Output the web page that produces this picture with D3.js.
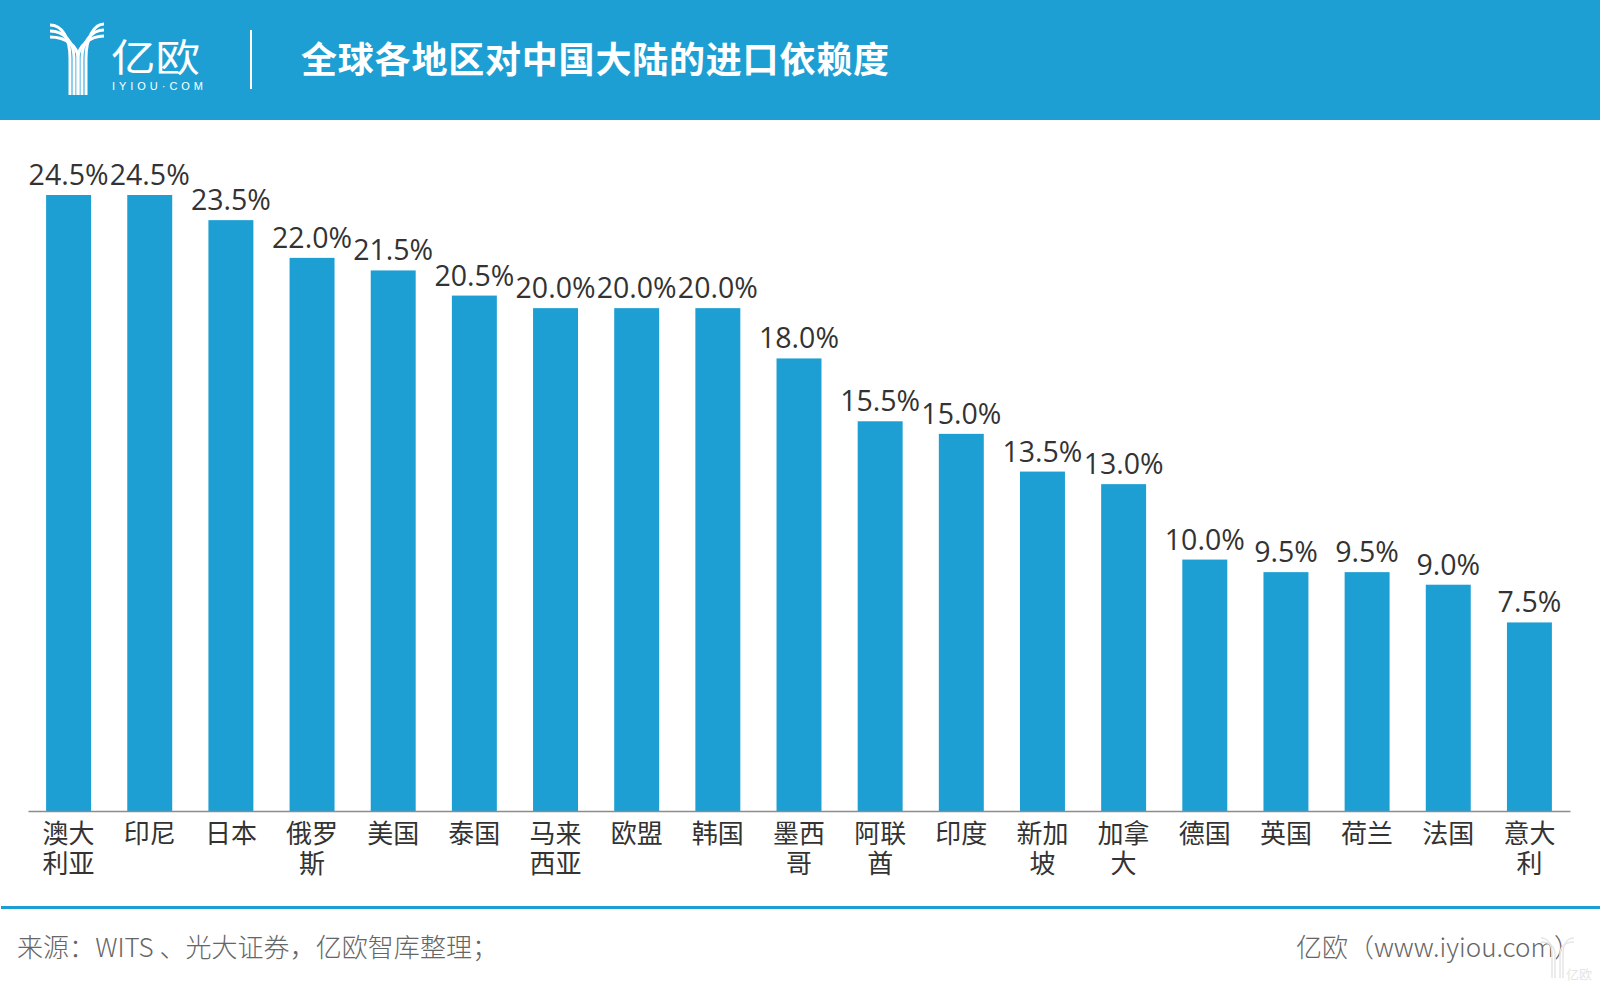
<!DOCTYPE html>
<html>
<head>
<meta charset="utf-8">
<script src="https://cdn.jsdelivr.net/npm/d3@7"></script>
<style>
  html, body { margin: 0; padding: 0; background: #fff; }
  svg { display: block; }
</style>
</head>
<body>
<svg id="chart" width="1603" height="986" lang="zh-CN"></svg>
<script>
// ---- data ----
const categories = ["澳大利亚","印尼","日本","俄罗斯","美国","泰国","马来西亚","欧盟","韩国","墨西哥","阿联酋","印度","新加坡","加拿大","德国","英国","荷兰","法国","意大利"];
const values = [24.5,24.5,23.5,22.0,21.5,20.5,20.0,20.0,20.0,18.0,15.5,15.0,13.5,13.0,10.0,9.5,9.5,9.0,7.5];
const title = "全球各地区对中国大陆的进口依赖度";
const sourceText = "来源：WITS 、光大证券，亿欧智库整理；";
const siteText = "亿欧（www.iyiou.com）";

const BLUE = "#1e9fd3";
const CJK = "'Liberation Sans', 'Noto Sans CJK SC', sans-serif";
const svg = d3.select("#chart");

// ---- header ----
svg.append("rect").attr("x", 0).attr("y", 0).attr("width", 1600).attr("height", 120).attr("fill", BLUE);

// logo Y symbol
const logo = svg.append("g").attr("fill", "none").attr("stroke", "#fff").attr("stroke-width", 3);
[0,1,2].forEach(k => {
  const sx = 70 + k*4;
  logo.append("path").attr("d", `M50 ${25+k*6} C ${62+k*2} ${25+k*6}, ${sx} ${38+k*4}, ${sx} 58 L ${sx} 95`);
  const rx = 86 - k*4;
  logo.append("path").attr("d", `M104 ${24+k*6} C ${94-k*2} ${24+k*6}, ${rx} ${38+k*4}, ${rx} 58 L ${rx} 95`);
});
svg.append("text").attr("x", 111).attr("y", 71)
  .attr("font-family", CJK).attr("font-weight", 400).attr("font-size", 38)
  .attr("fill", "#fff").attr("textLength", 89).attr("lengthAdjust", "spacingAndGlyphs").text("亿欧");
svg.append("text").attr("x", 112).attr("y", 90)
  .attr("font-family", "Liberation Sans").attr("font-size", 11)
  .attr("fill", "#fff").attr("textLength", 91).attr("lengthAdjust", "spacing").text("IYIOU·COM");
svg.append("line").attr("x1", 251).attr("x2", 251).attr("y1", 30).attr("y2", 89)
  .attr("stroke", "#fff").attr("stroke-width", 2);
svg.append("text").attr("x", 301).attr("y", 73)
  .attr("font-family", "Noto Sans CJK SC").attr("font-weight", 700).attr("font-size", 36)
  .attr("fill", "#fff").attr("textLength", 588).attr("lengthAdjust", "spacing").text(title);

// ---- chart ----
const x = d3.scaleBand().domain(categories).range([28, 1570]).paddingInner(0.446).paddingOuter(0.223);
const y = d3.scaleLinear().domain([0, 24.5]).range([811, 195]);

svg.append("g").selectAll("rect").data(categories).join("rect")
  .attr("x", d => x(d)).attr("width", x.bandwidth())
  .attr("y", (d,i) => y(values[i])).attr("height", (d,i) => y(0) - y(values[i]))
  .attr("fill", BLUE);

svg.append("g").selectAll("text").data(categories).join("text")
  .attr("x", d => x(d) + x.bandwidth()/2)
  .attr("y", (d,i) => y(values[i]) - 10)
  .attr("text-anchor", "middle")
  .attr("font-family", "Open Sans").attr("font-size", 28.5).attr("fill", "#333")
  .text((d,i) => values[i].toFixed(1) + "%");

// x axis
const xAxis = d3.axisBottom(x).tickSize(0).tickFormat("");
const ax = svg.append("g").attr("transform", `translate(0,${y(0)})`).call(xAxis);
ax.select(".domain").attr("stroke", "#8c8c8c").attr("stroke-width", 1.5);

// category labels, 2 chars per line
const catG = svg.append("g");
categories.forEach(c => {
  const lines = [];
  for (let i = 0; i < c.length; i += 2) lines.push(c.slice(i, i+2));
  const t = catG.append("text")
    .attr("text-anchor", "middle")
    .attr("font-family", CJK).attr("font-size", 26).attr("fill", "#333");
  lines.forEach((l, j) => {
    t.append("tspan").attr("x", x(c) + x.bandwidth()/2).attr("y", 843 + j*29.6).text(l);
  });
});

// ---- footer ----
svg.append("rect").attr("x", 1).attr("y", 906).attr("width", 1599).attr("height", 3).attr("fill", BLUE);
svg.append("text").attr("x", 17).attr("y", 957)
  .attr("font-family", "Noto Sans CJK SC").attr("font-weight", 300).attr("font-size", 26)
  .attr("fill", "#666").attr("textLength", 481).attr("lengthAdjust", "spacing").text(sourceText);
svg.append("text").attr("x", 1580).attr("y", 957).attr("text-anchor", "end")
  .attr("font-family", "Noto Sans CJK SC").attr("font-weight", 300).attr("font-size", 26)
  .attr("fill", "#666").text(siteText);

// faint watermark
const wm = svg.append("g").attr("fill", "none").attr("stroke", "#e6e6e6").attr("stroke-width", 1.5);
[0,1].forEach(k => {
  wm.append("path").attr("d", `M1541 ${938+k*4} C ${1549} ${938+k*4}, ${1552+k*3} ${946}, ${1552+k*3} 955 L ${1552+k*3} 978`);
  wm.append("path").attr("d", `M1574 ${938+k*4} C ${1566} ${938+k*4}, ${1563-k*3} ${946}, ${1563-k*3} 955 L ${1563-k*3} 978`);
});
svg.append("text").attr("x", 1566).attr("y", 979)
  .attr("font-family", "Liberation Sans, Noto Sans CJK SC").attr("font-size", 13)
  .attr("fill", "#e6e6e6").text("亿欧");
</script>
</body>
</html>
